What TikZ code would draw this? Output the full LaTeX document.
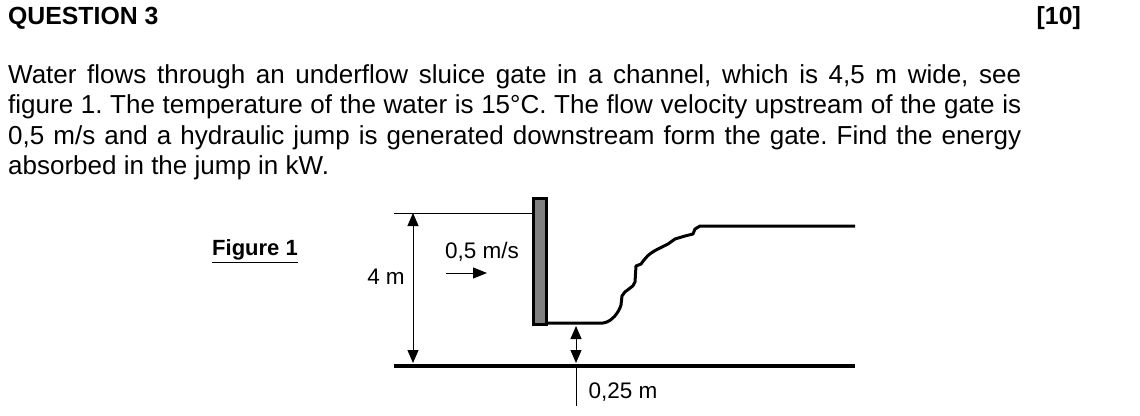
\documentclass[tikz,border=0pt]{standalone}
\usepackage{fontspec}
\setmainfont{Liberation Sans}
\usetikzlibrary{arrows.meta}
\begin{document}
\frenchspacing
\begin{tikzpicture}[x=1pt,y=-1pt,
  dim/.style={line width=1pt,{Triangle[length=13pt,width=11pt]}-{Triangle[length=13pt,width=11pt]}},
  lbl/.style={font=\fontsize{22.5}{24}\selectfont,inner sep=0pt}]
\useasboundingbox (0,0) rectangle (1140,415);
\node[anchor=west,inner sep=0pt,font=\bfseries\fontsize{24.8}{28}\selectfont] (q) at (8,18) {QUESTION 3};
\node[anchor=east,inner sep=0pt,font=\bfseries\fontsize{24.8}{28}\selectfont] (m) at (1081,18) {[10]};
\node[anchor=north west,inner sep=0pt,text width=1013pt,align=justify,font=\fontsize{26}{30.5}\selectfont] (txt) at (8,64)
 {Water flows through an underflow sluice gate in a channel, which is 4,5 m wide, see\linebreak figure 1. The temperature of the water is 15°C. The flow velocity upstream of the gate is\linebreak 0,5 m/s and a hydraulic jump is generated downstream form the gate. Find the energy\linebreak absorbed in the jump in kW.};
\node[lbl,font=\bfseries\fontsize{22}{24}\selectfont] (f1) at (255,251) {\underline{Figure 1}};
\draw[line width=0.9pt] (394,213) -- (532,213);
\draw[line width=4pt] (394,366) -- (855,366);
\node[draw=black,line width=3.5pt,fill=gray,minimum width=13pt,minimum height=126pt,inner sep=0pt] (gate) at (540,261.5) {};
\draw[line width=3pt,line join=round] (547,323) -- (603,323) .. controls (612,322) and (619,312) .. (621,305)
 -- (622,296) .. controls (624,290) and (634,288) .. (635,282) -- (636,266) -- (641,264)
 .. controls (648,254) and (652,252) .. (660,248) -- (668,244) -- (675,239) -- (685,236) -- (693,234)
 -- (695,229) -- (700,226) -- (855,226);
\coordinate (a1) at (413,213); \coordinate (a2) at (413,363);
\draw[dim] (a1) -- (a2);
\coordinate (b1) at (576,326); \coordinate (b2) at (576,363);
\draw[dim] (b1) -- (b2);
\coordinate (c1) at (576,368); \coordinate (c2) at (576,406);
\draw[line width=0.9pt] (c1) -- (c2);
\coordinate (v1) at (446,273); \coordinate (v2) at (487,273);
\draw[line width=1pt,-{Triangle[length=14pt,width=11pt]}] (v1) -- (v2);
\node[lbl] (t4) at (386,277) {4 m};
\node[lbl] (tv) at (482,252) {0,5 m/s};
\node[lbl] (t25) at (623,392) {0,25 m};
\end{tikzpicture}
\end{document}
